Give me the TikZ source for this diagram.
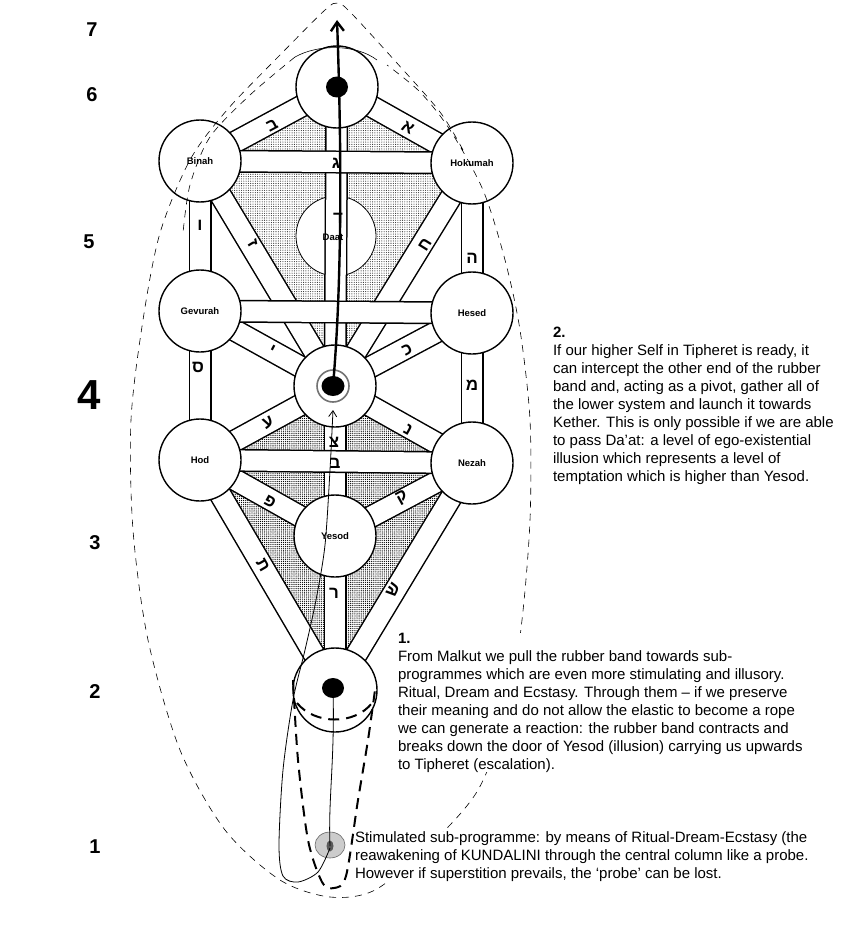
\documentclass[tikz,border=0pt]{standalone}
\usepackage{fontspec}
\setmainfont{Liberation Sans}
\newfontfamily\hebfont[Script=Hebrew]{Liberation Sans}
\usepackage{tikz}
\usetikzlibrary{arrows.meta, backgrounds, patterns.meta, shapes.geometric}

\begin{document}
\begin{tikzpicture}[x=1pt, y=-1pt,
				>={Straight Barb[length=9pt, width=13pt]},
				sefira/.style={circle, draw, fill=white, line width=1.4pt, minimum size=82pt, inner sep=0pt, font=\bfseries\fontsize{9.5}{9.5}\selectfont},
				tag/.style={inner sep=0pt, font=\bfseries\fontsize{9.5}{9.5}\selectfont},
				seed/.style={ellipse, fill=black, inner sep=0pt, minimum width=22pt, minimum height=21pt},
				ring/.style={circle, draw=black!55, line width=1.6pt, inner sep=0pt, minimum size=32pt},
				letter/.style={inner sep=0pt, font=\hebfont\bfseries\fontsize{17}{17}\selectfont},
				level/.style={inner sep=0pt, font=\bfseries\fontsize{20}{20}\selectfont},
				note/.style={anchor=north west, inner sep=0pt, outer sep=0pt, fill=white, align=left, font=\fontsize{15}{18}\selectfont},
				stipple/.style={pattern={Dots[distance=2.3pt, radius=0.55pt]}, pattern color=black!85},
				stipple dense/.style={pattern={Dots[distance=2.1pt, radius=0.65pt]}, pattern color=black},
				path edge/.style={line width=23pt, black},
				path core/.style={line width=20pt, white},
				veil/.style={line width=0.6pt, dash pattern=on 7pt off 6pt},
				capsule/.style={line width=2pt, dash pattern=on 11pt off 7pt},
				band/.style={line width=0.8pt},
				ascent/.style={->, line width=2.4pt}]
				\useasboundingbox (0,0) rectangle (853,931);
				\node at (337,87) (kether) [sefira] {};
				\node at (200,161) (binah) [sefira] {Binah};
				\node at (472,163) (hokmah) [sefira] {Hokumah};
				\node at (333,237) (daat) [tag] {Daat};
				\node at (200,311) (gevurah) [sefira] {Gevurah};
				\node at (472,313) (hesed) [sefira] {Hesed};
				\node at (335,386) (tipheret) [sefira] {};
				\node at (200,460) (hod) [sefira] {Hod};
				\node at (472,463) (nezah) [sefira] {Nezah};
				\node at (335,536) (yesod) [sefira] {Yesod};
				\node at (335,690) (malkut) [sefira, minimum size=84pt] {};
				\begin{scope}[on background layer]
					\fill[stipple] (kether.center) -- (binah.center) -- (hokmah.center) -- cycle;
					\fill[stipple] (binah.center) -- (hokmah.center) -- (tipheret.center) -- cycle;
					\fill[stipple dense] (tipheret.center) -- (hod.center) -- (nezah.center) -- cycle;
					\fill[stipple dense] (hod.center) -- (nezah.center) -- (yesod.center) -- cycle;
					\fill[stipple dense] (hod.center) -- (yesod.center) -- (malkut.center) -- cycle;
					\fill[stipple dense] (nezah.center) -- (yesod.center) -- (malkut.center) -- cycle;
					\filldraw[fill=white, line width=0.8pt] (336,236) circle [radius=40];
					\foreach \a/\b in {kether/tipheret, binah/gevurah, gevurah/hod, hokmah/hesed, hesed/nezah, tipheret/yesod, yesod/malkut, kether/binah, kether/hokmah, binah/tipheret, hokmah/tipheret, gevurah/tipheret, hesed/tipheret, tipheret/hod, tipheret/nezah, hod/yesod, nezah/yesod, hod/malkut, nezah/malkut}
						\draw[path edge] (\a.center) -- (\b.center);
					\foreach \a/\b in {kether/tipheret, binah/gevurah, gevurah/hod, hokmah/hesed, hesed/nezah, tipheret/yesod, yesod/malkut, kether/binah, kether/hokmah, binah/tipheret, hokmah/tipheret, gevurah/tipheret, hesed/tipheret, tipheret/hod, tipheret/nezah, hod/yesod, nezah/yesod, hod/malkut, nezah/malkut}
						\draw[path core] (\a.center) -- (\b.center);
					\foreach \a/\b in {binah/hokmah, gevurah/hesed, hod/nezah}
						\draw[path edge] (\a.center) -- (\b.center);
					\foreach \a/\b in {binah/hokmah, gevurah/hesed, hod/nezah}
						\draw[path core] (\a.center) -- (\b.center);
				\end{scope}
				\node at (272,125) (beth) [letter, rotate=28] {ב};
				\node at (408,128) (aleph) [letter, rotate=-28] {א};
				\node at (336,163) (gimel) [letter] {ג};
				\node at (338,218) (daleth) [letter] {ד};
				\node at (200,225) (vav) [letter] {ו};
				\node at (472,258) (he) [letter] {ה};
				\node at (253,243) (zayin) [letter, rotate=-59] {ז};
				\node at (425,245) (heth) [letter, rotate=58] {ח};
				\node at (272,350) (yod) [letter, rotate=-28] {י};
				\node at (407,350) (kaph) [letter, rotate=28] {כ};
				\node at (198,367) (samekh) [letter] {ס};
				\node at (472,385) (mem) [letter] {מ};
				\node at (268,423) (ayin) [letter, rotate=29] {ע};
				\node at (408,430) (nun) [letter, rotate=-29] {נ};
				\node at (334,442) (tsade) [letter] {צ};
				\node at (335,463) (beth2) [letter] {ב};
				\node at (270,502) (pe) [letter, rotate=-29] {פ};
				\node at (402,498) (qoph) [letter, rotate=29] {ק};
				\node at (263,565) (tav) [letter, rotate=-60] {ת};
				\node at (334,593) (resh) [letter] {ר};
				\node at (393,590) (shin) [letter, rotate=59] {ש};
				\node at (337,87) (crown) [seed] {};
				\node at (333,386) (halo) [ring] {};
				\node at (333,386) (heart) [seed, minimum width=23pt, minimum height=20pt] {};
				\node at (333,688) (root) [seed, minimum height=20pt] {};
				\node at (330,845) (probe) [ellipse, draw=black!60, fill=black!20, line width=0.6pt, inner sep=0pt, minimum width=30pt, minimum height=26pt] {};
				\node at (330,846) (core) [ellipse, fill=black!65, inner sep=0pt, minimum width=7pt, minimum height=11pt] {};
				\coordinate (apex) at (337,20);
				\draw[ascent] (heart.center) .. controls (343,270) and (341,130) .. (apex);
				\draw[band] (root.center) .. controls (335,760) and (328,800) .. (core.center);
				\draw[band, ->, >={Straight Barb[length=6pt, width=8pt]}] plot[smooth] coordinates {(330,848) (318,872) (298,882) (283,876) (279,845) (283,770) (293,700) (305,650) (316,600) (325,545) (330,470) (333,410)};
				\draw[capsule] plot[smooth] coordinates {(293,680) (298,760) (308,840) (322,882) (334,888) (346,876) (358,800) (368,740) (375,690)};
				\draw[capsule] (297,703) .. controls (315,725) and (355,725) .. (372,703);
				\draw[line width=0.6pt] (295,57) .. controls (318,44) and (356,44) .. (377,60);
				\draw[veil] plot[smooth] coordinates {(463,150) (440,112) (396,62) (352,14) (338,3) (325,10) (280,55) (227,110) (190,160) (160,233) (143,320) (131,420) (133,530) (148,640) (180,750) (225,830) (280,880) (330,897) (375,890) (430,845) (478,790) (508,710) (522,620) (530,520) (530,420) (520,330) (505,260) (483,190) (450,130) (420,92) (387,65)};
				\draw[veil] plot[smooth] coordinates {(295,57) (250,95) (210,137) (190,185) (183,233)};
				\node at (92,30) (l7) [level] {7};
				\node at (92,95) (l6) [level] {6};
				\node at (89,242) (l5) [level] {5};
				\node at (89,395) (l4) [level, font=\bfseries\fontsize{42}{42}\selectfont] {4};
				\node at (95,543) (l3) [level] {3};
				\node at (95,692) (l2) [level] {2};
				\node at (95,847) (l1) [level] {1};
				\node at (553,327) (pivot) [note] {\textbf{2.}\\If our higher Self in Tipheret is ready, it\\can intercept the other end of the rubber\\band and, acting as a pivot, gather all of\\the lower system and launch it towards\\Kether. This is only possible if we are able\\to pass Da’at: a level of ego-existential\\illusion which represents a level of\\temptation which is higher than Yesod.};
				\node at (398,633) (pull) [note] {\textbf{1.}\\From Malkut we pull the rubber band towards sub-\\programmes which are even more stimulating and illusory.\\Ritual, Dream and Ecstasy. Through them – if we preserve\\their meaning and do not allow the elastic to become a rope\\we can generate a reaction: the rubber band contracts and\\breaks down the door of Yesod (illusion) carrying us upwards\\to Tipheret (escalation).};
				\node at (355,832) (stimulus) [note] {Stimulated sub-programme: by means of Ritual-Dream-Ecstasy (the\\reawakening of KUNDALINI through the central column like a probe.\\However if superstition prevails, the ‘probe’ can be lost.};
			\end{tikzpicture}
\end{document}
